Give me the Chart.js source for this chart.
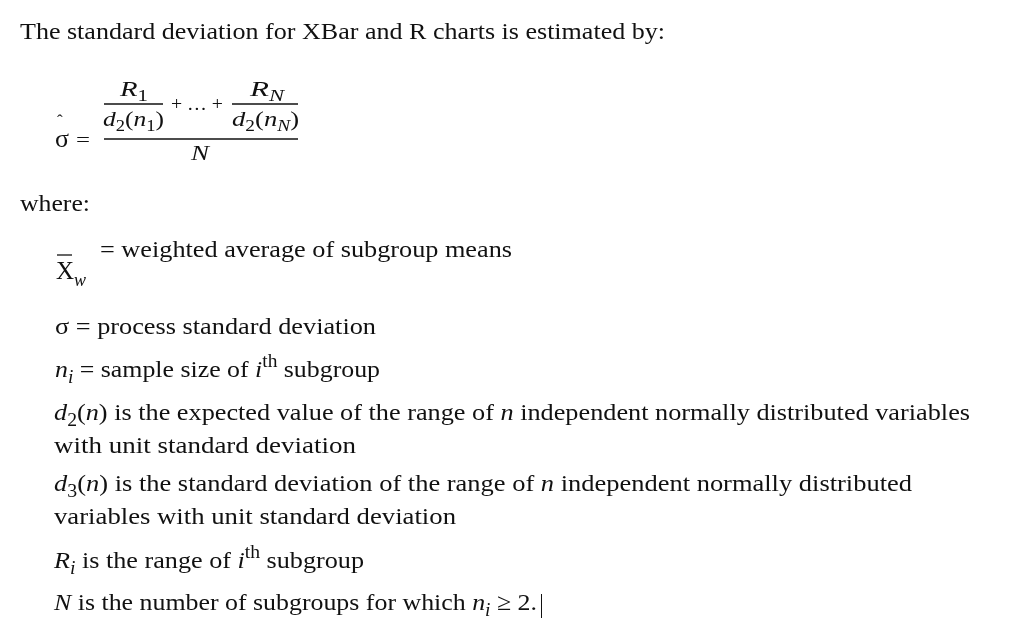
<!DOCTYPE html>
<html>
<head>
<meta charset="utf-8">
<script src="https://cdn.jsdelivr.net/npm/chart.js@4"></script>
<style>
  html, body { margin: 0; padding: 0; background: #ffffff; }
  #wrap { width: 1019px; height: 642px; position: relative; }
</style>
</head>
<body>
<div id="wrap"><canvas id="chart"></canvas></div>
<script>
// text content ( *x* = italic, _{..} = subscript, ^{..} = superscript )
const introLines = ["The standard deviation for XBar and R charts is estimated by:", "where:"];
const numerators = ["*R*_{1}", "*R*_{*N*}"];
const denominators = ["*d*_{2}(*n*_{1})", "*d*_{2}(*n*_{*N*})"];
const mainDenominator = "*N*";
const joiner = "+ … +";
const xbarLabel = ["X", "*w*", "= weighted average of subgroup means"];
const definitions = [
  "σ = process standard deviation",
  "*n*_{*i*} = sample size of *i*^{th} subgroup",
  "*d*_{2}(*n*) is the expected value of the range of *n* independent normally distributed variables",
  "with unit standard deviation",
  "*d*_{3}(*n*) is the standard deviation of the range of *n* independent normally distributed",
  "variables with unit standard deviation",
  "*R*_{*i*} is the range of *i*^{th} subgroup",
  "*N* is the number of subgroups for which *n*_{*i*} ≥ 2."
];

// layout: [left, baseline, right]
const introPos = [[20, 39, 665], [20, 211, 90]];
const defPos = [
  [55, 334, 376], [55, 377, 380], [54, 420, 970], [54, 453, 356],
  [54, 491, 912], [54, 524, 456], [54, 568, 364], [54, 610, 537]
];

const FACE = "'Liberation Serif', 'DejaVu Serif', serif";
const INK = "#111111";

function parse(str) {
  const out = [];
  const re = /\*([^*]+)\*|_\{([^}]+)\}|\^\{([^}]+)\}|([^*_^]+)/g;
  let m;
  while ((m = re.exec(str)) !== null) {
    if (m[1]) out.push({ t: m[1], it: true, pos: 0 });
    else if (m[2] || m[3]) {
      const inner = m[2] || m[3];
      const it = /^\*.*\*$/.test(inner);
      out.push({ t: it ? inner.slice(1, -1) : inner, it: it, pos: m[2] ? 1 : -1 });
    } else out.push({ t: m[4], it: false, pos: 0 });
  }
  return out;
}

function segFont(seg, size) {
  const s = seg.pos === 0 ? size : Math.round(size * 0.74);
  return (seg.it ? "italic " : "") + s + "px " + FACE;
}

function richWidth(ctx, segs, size) {
  let w = 0;
  segs.forEach((seg) => { ctx.font = segFont(seg, size); w += ctx.measureText(seg.t).width; });
  return w;
}

function drawRich(ctx, str, x, y, size, right) {
  const segs = parse(str);
  const w = richWidth(ctx, segs, size);
  const f = right ? (right - x) / w : 1;
  ctx.save();
  ctx.translate(x, y);
  ctx.scale(f, 1);
  let cx = 0;
  segs.forEach((seg) => {
    ctx.font = segFont(seg, size);
    const dy = seg.pos === 1 ? size * 0.24 : seg.pos === -1 ? -size * 0.4 : 0;
    ctx.fillText(seg.t, cx, dy);
    cx += ctx.measureText(seg.t).width;
  });
  ctx.restore();
}

const textPlugin = {
  id: "formulaText",
  afterDraw(chart) {
    const ctx = chart.ctx;
    const xs = chart.scales.x, ys = chart.scales.y;
    const X = (v) => xs.getPixelForValue(v);
    const Y = (v) => ys.getPixelForValue(v);
    ctx.save();
    ctx.fillStyle = INK;
    ctx.strokeStyle = INK;
    ctx.textBaseline = "alphabetic";
    ctx.textAlign = "left";

    introLines.forEach((t, i) => {
      const p = introPos[i];
      drawRich(ctx, t, X(p[0]), Y(p[1]), 24, X(p[2]));
    });

    // sigma hat = fraction
    drawRich(ctx, "σ", X(55), Y(147), 25, X(69));
    ctx.font = "17px " + FACE;
    ctx.fillText("ˆ", X(57), Y(126));
    drawRich(ctx, "=", X(76), Y(146), 19, X(90));

    // fractions
    const barBoxes = [[104, 163], [232, 298]];
    ctx.lineWidth = 1.6;
    barBoxes.forEach((b) => {
      ctx.beginPath(); ctx.moveTo(X(b[0]), Y(104)); ctx.lineTo(X(b[1]), Y(104)); ctx.stroke();
    });
    ctx.beginPath(); ctx.moveTo(X(104), Y(139)); ctx.lineTo(X(298), Y(139)); ctx.stroke();

    drawRich(ctx, numerators[0], X(120), Y(96), 22, X(148));
    drawRich(ctx, numerators[1], X(250), Y(96), 22, X(284));
    drawRich(ctx, denominators[0], X(103), Y(126), 22, X(164));
    drawRich(ctx, denominators[1], X(232), Y(126), 22, X(299));
    drawRich(ctx, joiner, X(171), Y(110), 18, X(223));
    drawRich(ctx, mainDenominator, X(191), Y(160), 22, X(209));

    // x-bar w line
    drawRich(ctx, xbarLabel[2], X(100), Y(257), 24, X(512));
    ctx.font = "25px " + FACE;
    ctx.fillText(xbarLabel[0], X(56), Y(279));
    ctx.lineWidth = 1.3;
    ctx.beginPath(); ctx.moveTo(X(57), Y(255)); ctx.lineTo(X(72), Y(255)); ctx.stroke();
    ctx.font = "italic 18px " + FACE;
    ctx.fillText(xbarLabel[1].replace(/\*/g, ""), X(74), Y(286));

    definitions.forEach((t, i) => {
      const p = defPos[i];
      drawRich(ctx, t, X(p[0]), Y(p[1]), 24, X(p[2]));
    });

    // text cursor
    ctx.lineWidth = 1;
    ctx.beginPath(); ctx.moveTo(X(541.5), Y(594)); ctx.lineTo(X(541.5), Y(618)); ctx.stroke();
    ctx.restore();
  }
};

new Chart(document.getElementById("chart"), {
  type: "scatter",
  data: { datasets: [{ data: [] }] },
  options: {
    responsive: true,
    maintainAspectRatio: false,
    animation: false,
    layout: { padding: 0 },
    plugins: { legend: { display: false }, tooltip: { enabled: false } },
    scales: {
      x: { type: "linear", min: 0, max: 1019, display: false },
      y: { type: "linear", min: 0, max: 642, reverse: true, display: false }
    }
  },
  plugins: [textPlugin]
});
</script>
</body>
</html>
